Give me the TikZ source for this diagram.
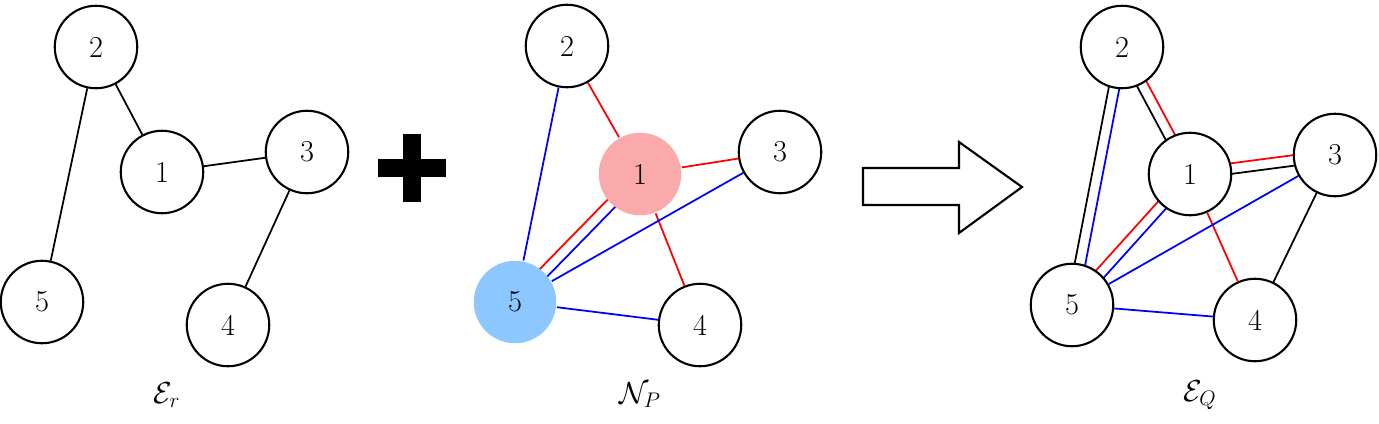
\documentclass[tikz,border=0pt]{standalone}
\usetikzlibrary{calc,backgrounds}
\definecolor{lblue}{RGB}{140,200,255}
\definecolor{lred}{RGB}{250,170,170}
\begin{document}
\begin{tikzpicture}[x=0.02cm,y=-0.02cm,
  vert/.style={circle,draw=black,line width=1.2pt,minimum size=1.65cm,inner sep=0pt,font=\LARGE},
  edge/.style={line width=1pt},
  lab/.style={font=\LARGE}]
\useasboundingbox (0,0) rectangle (1379,423);
\newcommand{\dbl}[4]{%
  \draw[edge,#3] ($(#1.center)!3pt!90:(#2.center)$) -- ($(#2.center)!3pt!-90:(#1.center)$);
  \draw[edge,#4] ($(#1.center)!3pt!-90:(#2.center)$) -- ($(#2.center)!3pt!90:(#1.center)$);}
% left graph
\node[vert] (a2) at (96,47) {2};
\node[vert] (a1) at (162,172) {1};
\node[vert] (a3) at (307,152) {3};
\node[vert] (a5) at (42,302) {5};
\node[vert] (a4) at (228,325) {4};
\draw[edge] (a2) -- (a1);
\draw[edge] (a2) -- (a5);
\draw[edge] (a1) -- (a3);
\draw[edge] (a3) -- (a4);
\node[lab] (lr) at (167,395) {$\mathcal{E}_r$};
\coordinate (p) at (412,168);
\draw[line width=10pt] ($(p)+(-34,0)$) -- ($(p)+(34,0)$);
\draw[line width=10pt] ($(p)+(0,-34)$) -- ($(p)+(0,34)$);
% middle graph
\node[vert,fill=lred,draw=none] (b1) at (640,174) {1};
\node[vert,fill=lblue,draw=none] (b5) at (515,302) {5};
\node[vert] (b2) at (567,46) {2};
\node[vert] (b3) at (780,152) {3};
\node[vert] (b4) at (700,325) {4};
\begin{scope}[on background layer]
\dbl{b5}{b1}{red}{blue}
\end{scope}
\draw[edge,red] (b2) -- (b1);
\draw[edge,red] (b1) -- (b3);
\draw[edge,red] (b1) -- (b4);
\draw[edge,blue] (b2) -- (b5);
\draw[edge,blue] (b5) -- (b3);
\draw[edge,blue] (b5) -- (b4);
\node[lab] (lp) at (640,395) {$\mathcal{N}_P$};
% arrow
\draw[line width=1.2pt] (863,168) -- (959,168) -- (959,142) -- (1022,187) -- (959,233) -- (959,205) -- (863,205) -- cycle;
% right graph
\node[vert,fill=white] (c2) at (1122,47) {2};
\node[vert,fill=white] (c1) at (1190,174) {1};
\node[vert,fill=white] (c3) at (1335,155) {3};
\node[vert,fill=white] (c5) at (1072,305) {5};
\node[vert,fill=white] (c4) at (1255,320) {4};
\begin{scope}[on background layer]
\dbl{c5}{c2}{black}{blue}
\dbl{c2}{c1}{red}{black}
\dbl{c1}{c3}{red}{black}
\dbl{c5}{c1}{red}{blue}
\end{scope}
\draw[edge,red] (c1) -- (c4);
\draw[edge,blue] (c5) -- (c3);
\draw[edge,blue] (c5) -- (c4);
\draw[edge] (c3) -- (c4);
\node[lab] (lq) at (1200,395) {$\mathcal{E}_Q$};
\end{tikzpicture}
\end{document}
